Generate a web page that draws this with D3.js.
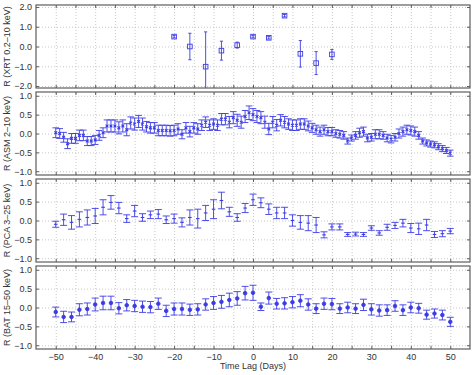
<!DOCTYPE html>
<html>
<head>
<meta charset="utf-8">
<script src="https://cdn.jsdelivr.net/npm/d3@7"></script>
<style>
  body { margin: 0; background: #fff; }
  text { font-family: "Liberation Sans", Arial, sans-serif; }
</style>
</head>
<body>
<div id="chart"></div>
<script>
// XRT (every 4 days)
const xrtLag = [-20, -16, -12, -8, -4, 0, 4, 8, 12, 16, 20];
const xrtR   = [0.5, 0.0, -1.02, -0.21, 0.07, 0.5, 0.44, 1.56, -0.37, -0.84, -0.40];
const xrtErr = [0.06, 0.67, 1.76, 0.48, 0.15, 0.06, 0.06, 0.06, 0.67, 0.58, 0.25];

// ASM (every day)
const asmLag = d3.range(-50, 51, 1);
const asmR = [0.02, 0.0, -0.1, -0.27, -0.13, -0.13, -0.05, -0.05, -0.2, -0.2,
  -0.17, -0.05, 0.02, 0.2, 0.2, 0.2, 0.15, 0.2, 0.1, 0.28,
  0.25, 0.32, 0.25, 0.18, 0.15, 0.15, 0.08, 0.08, 0.08, 0.07,
  0.08, 0.12, -0.02, 0.15, 0.05, 0.15, 0.12, 0.22, 0.3, 0.22,
  0.25, 0.22, 0.38, 0.38, 0.3, 0.42, 0.35, 0.3, 0.45, 0.55,
  0.5, 0.45, 0.42, 0.3, 0.12, 0.3, 0.22, 0.35, 0.3, 0.25,
  0.22, 0.22, 0.25, 0.25, 0.2, 0.15, 0.1, 0.05, 0.1, 0.05,
  0.05, 0.0, -0.02, -0.05, -0.2, -0.12, -0.05, 0.02, 0.05, -0.12,
  -0.1, -0.02, -0.02, -0.05, -0.12, -0.15, -0.1, 0.0, 0.05, 0.1,
  0.08, 0.05, -0.05, -0.2, -0.25, -0.28, -0.3, -0.35, -0.4, -0.45, -0.52];
const asmErr = [0.13, 0.13, 0.13, 0.13, 0.13, 0.13, 0.14, 0.14, 0.12, 0.12,
  0.12, 0.13, 0.13, 0.16, 0.16, 0.16, 0.16, 0.16, 0.16, 0.16,
  0.16, 0.16, 0.16, 0.14, 0.14, 0.14, 0.14, 0.14, 0.14, 0.14,
  0.14, 0.14, 0.12, 0.14, 0.14, 0.14, 0.14, 0.14, 0.14, 0.14,
  0.14, 0.14, 0.15, 0.15, 0.15, 0.16, 0.16, 0.16, 0.16, 0.18,
  0.16, 0.16, 0.16, 0.16, 0.15, 0.15, 0.15, 0.15, 0.15, 0.14,
  0.14, 0.14, 0.14, 0.14, 0.13, 0.12, 0.12, 0.12, 0.12, 0.11,
  0.11, 0.1, 0.1, 0.1, 0.08, 0.08, 0.1, 0.12, 0.12, 0.1,
  0.1, 0.12, 0.12, 0.1, 0.1, 0.1, 0.1, 0.12, 0.12, 0.12,
  0.12, 0.12, 0.1, 0.08, 0.08, 0.08, 0.08, 0.08, 0.08, 0.08, 0.08];

// PCA (every 2 days)
const pcaLag = d3.range(-50, 51, 2);
const pcaR = [-0.1, 0.02, -0.05, 0.03, 0.08, 0.12, 0.35, 0.48, 0.33, 0.05,
  0.25, 0.08, 0.15, 0.17, 0.02, 0.05, -0.05, 0.08, 0.05, 0.2,
  0.3, 0.53, 0.23, 0.08, 0.33, 0.55, 0.47, 0.3, 0.2, 0.2,
  0.0, -0.05, -0.07, -0.12, -0.38, -0.17, -0.17, -0.37, -0.36, -0.37,
  -0.2, -0.33, -0.18, -0.13, -0.07, -0.2, -0.22, -0.12, -0.37, -0.35, -0.28];
const pcaErr = [0.08, 0.15, 0.18, 0.2, 0.2, 0.2, 0.2, 0.18, 0.15, 0.1,
  0.15, 0.1, 0.1, 0.12, 0.1, 0.12, 0.12, 0.2, 0.25, 0.2,
  0.25, 0.22, 0.12, 0.1, 0.12, 0.15, 0.13, 0.14, 0.15, 0.15,
  0.15, 0.18, 0.2, 0.2, 0.08, 0.08, 0.08, 0.05, 0.05, 0.05,
  0.06, 0.06, 0.08, 0.08, 0.1, 0.12, 0.15, 0.15, 0.08, 0.08, 0.07];

// BAT (every 2 days)
const batLag = d3.range(-50, 51, 2);
const batR = [-0.12, -0.25, -0.25, -0.06, -0.04, 0.08, 0.12, 0.12, -0.02, 0.06,
  0.04, 0.02, 0.01, 0.1, -0.09, -0.04, -0.04, -0.06, -0.05, 0.08,
  0.12, 0.15, 0.2, 0.24, 0.38, 0.39, 0.02, 0.25, 0.1, 0.11,
  0.14, 0.18, 0.08, -0.03, 0.1, 0.09, -0.03, 0.0, -0.03, 0.07,
  -0.05, -0.08, -0.07, 0.04, -0.07, 0.0, -0.02, -0.19, -0.16, -0.2, -0.38];
const batErr = [0.13, 0.15, 0.13, 0.16, 0.16, 0.17, 0.18, 0.18, 0.15, 0.15,
  0.15, 0.15, 0.15, 0.15, 0.15, 0.16, 0.16, 0.15, 0.15, 0.15,
  0.17, 0.17, 0.18, 0.18, 0.18, 0.2, 0.1, 0.16, 0.14, 0.15,
  0.15, 0.16, 0.15, 0.13, 0.15, 0.15, 0.13, 0.14, 0.13, 0.15,
  0.15, 0.15, 0.14, 0.14, 0.14, 0.14, 0.13, 0.12, 0.12, 0.13, 0.12];

const panels = [
  { label: "R (XRT 0.2\u201310 keV)", lag: xrtLag, r: xrtR, err: xrtErr, dom: [-2.1, 2.1],
    yTicks: [-2, -1, 0, 1, 2], fmt: d3.format(".1f"), marker: "square", cap: 1.6 },
  { label: "R (ASM 2\u201310 keV)", lag: asmLag, r: asmR, err: asmErr, dom: [-1.1, 1.1],
    yTicks: [-1, -0.5, 0, 0.5, 1], fmt: d3.format(".1f"), marker: "x", cap: 3.3 },
  { label: "R (PCA 3\u201325 keV)", lag: pcaLag, r: pcaR, err: pcaErr, dom: [-1.1, 1.1],
    yTicks: [-1, -0.5, 0, 0.5, 1], fmt: d3.format(".1f"), marker: "plus", cap: 3.5 },
  { label: "R (BAT 15\u201350 keV)", lag: batLag, r: batR, err: batErr, dom: [-1.1, 1.1],
    yTicks: [-1, -0.5, 0, 0.5, 1], fmt: d3.format(".1f"), marker: "dot", cap: 3.5 }
];

const width = 474, height = 375;
const left = 36, right = 470;
const panelTop = 5, panelH = 83, panelStep = 87;
const blue = "#3b3be6";
const frame = "#5e5e5e";
const textColor = "#333";

const svg = d3.select("#chart").append("svg")
  .attr("width", width)
  .attr("height", height);

const x = d3.scaleLinear().domain([-55, 55]).range([left, right]);
const xGrid = d3.range(-50, 51, 5);
const xLabels = d3.range(-50, 51, 10);

panels.forEach((p, i) => {
  const top = panelTop + i * panelStep;
  const bottom = top + panelH;
  const y = d3.scaleLinear().domain(p.dom).range([bottom, top]);
  const g = svg.append("g");

  const clipId = "clip" + i;
  svg.append("clipPath").attr("id", clipId)
    .append("rect").attr("x", left).attr("y", top)
    .attr("width", right - left).attr("height", panelH);

  // Grid lines
  g.append("g")
    .attr("transform", `translate(0,${bottom})`)
    .call(d3.axisBottom(x).tickValues(xGrid).tickSize(-panelH).tickFormat(""))
    .call(s => s.select(".domain").remove())
    .selectAll("line")
    .attr("stroke", "#c8c8c8")
    .attr("stroke-dasharray", "1,2");

  g.append("g")
    .attr("transform", `translate(${left},0)`)
    .call(d3.axisLeft(y).tickValues(p.yTicks).tickSize(-(right - left)).tickFormat(""))
    .call(s => s.select(".domain").remove())
    .selectAll("line")
    .attr("stroke", "#c8c8c8")
    .attr("stroke-dasharray", "1,2");

  // Inward ticks on all sides
  const axes = [
    [d3.axisBottom(x).tickValues(xGrid).tickSize(-3).tickFormat(""), `translate(0,${bottom})`],
    [d3.axisTop(x).tickValues(xGrid).tickSize(-3).tickFormat(""), `translate(0,${top})`],
    [d3.axisLeft(y).tickValues(p.yTicks).tickSize(-3).tickFormat(""), `translate(${left},0)`],
    [d3.axisRight(y).tickValues(p.yTicks).tickSize(-3).tickFormat(""), `translate(${right},0)`]
  ];
  axes.forEach(([ax, tr]) => {
    g.append("g").attr("transform", tr).call(ax)
      .call(s => s.select(".domain").remove())
      .selectAll("line").attr("stroke", frame);
  });

  // Y tick labels
  g.append("g")
    .attr("transform", `translate(${left},0)`)
    .call(d3.axisLeft(y).tickValues(p.yTicks).tickSize(0).tickPadding(4).tickFormat(p.fmt))
    .call(s => s.select(".domain").remove())
    .selectAll("text")
    .attr("font-size", "9px")
    .style("fill", textColor);

  // Frame
  g.append("rect")
    .attr("x", left).attr("y", top)
    .attr("width", right - left).attr("height", panelH)
    .attr("fill", "none")
    .attr("stroke", frame)
    .attr("stroke-width", 1.2);

  // Y label
  svg.append("text")
    .attr("transform", "rotate(-90)")
    .attr("x", -(top + panelH / 2))
    .attr("y", 10)
    .attr("text-anchor", "middle")
    .attr("font-size", "9px")
    .style("fill", textColor)
    .text(p.label);

  // Data
  const pts = p.lag.map((d, k) => ({ lag: d, r: p.r[k], e: p.err[k] }));
  const data = svg.append("g")
    .attr("clip-path", `url(#${clipId})`)
    .attr("stroke", blue)
    .attr("fill", "none")
    .attr("stroke-width", 0.9);

  const bars = data.selectAll("g.bar").data(pts).enter().append("g");
  bars.append("line")
    .attr("x1", d => x(d.lag)).attr("x2", d => x(d.lag))
    .attr("y1", d => y(d.r - d.e)).attr("y2", d => y(d.r + d.e));
  bars.append("line")
    .attr("x1", d => x(d.lag) - p.cap).attr("x2", d => x(d.lag) + p.cap)
    .attr("y1", d => y(d.r + d.e)).attr("y2", d => y(d.r + d.e));
  bars.append("line")
    .attr("x1", d => x(d.lag) - p.cap).attr("x2", d => x(d.lag) + p.cap)
    .attr("y1", d => y(d.r - d.e)).attr("y2", d => y(d.r - d.e));

  if (p.marker === "square") {
    bars.append("rect")
      .attr("x", d => x(d.lag) - 2.3).attr("y", d => y(d.r) - 2.3)
      .attr("width", 4.6).attr("height", 4.6);
  } else if (p.marker === "x") {
    bars.append("path")
      .attr("d", d => {
        const cx = x(d.lag), cy = y(d.r), s = 1.4;
        return `M${cx - s},${cy - s}L${cx + s},${cy + s}M${cx - s},${cy + s}L${cx + s},${cy - s}`;
      })
      .attr("stroke-width", 1.1);
  } else if (p.marker === "plus") {
    bars.append("path")
      .attr("d", d => {
        const cx = x(d.lag), cy = y(d.r), s = 1.8;
        return `M${cx - s},${cy}L${cx + s},${cy}`;
      })
      .attr("stroke-width", 1.1);
  } else {
    bars.append("circle")
      .attr("cx", d => x(d.lag)).attr("cy", d => y(d.r))
      .attr("r", 1.8)
      .attr("fill", blue);
  }

  // X labels on last panel
  if (i === panels.length - 1) {
    g.append("g")
      .attr("transform", `translate(0,${bottom})`)
      .call(d3.axisBottom(x).tickValues(xLabels).tickSize(0).tickPadding(5)
        .tickFormat(d => d < 0 ? "\u2212" + Math.abs(d) : d))
      .call(s => s.select(".domain").remove())
      .selectAll("text")
      .attr("font-size", "9px")
      .style("fill", textColor);

    svg.append("text")
      .attr("x", (left + right) / 2)
      .attr("y", 369)
      .attr("text-anchor", "middle")
      .attr("font-size", "9px")
      .style("fill", textColor)
      .text("Time Lag (Days)");
  }
});
</script>
</body>
</html>
